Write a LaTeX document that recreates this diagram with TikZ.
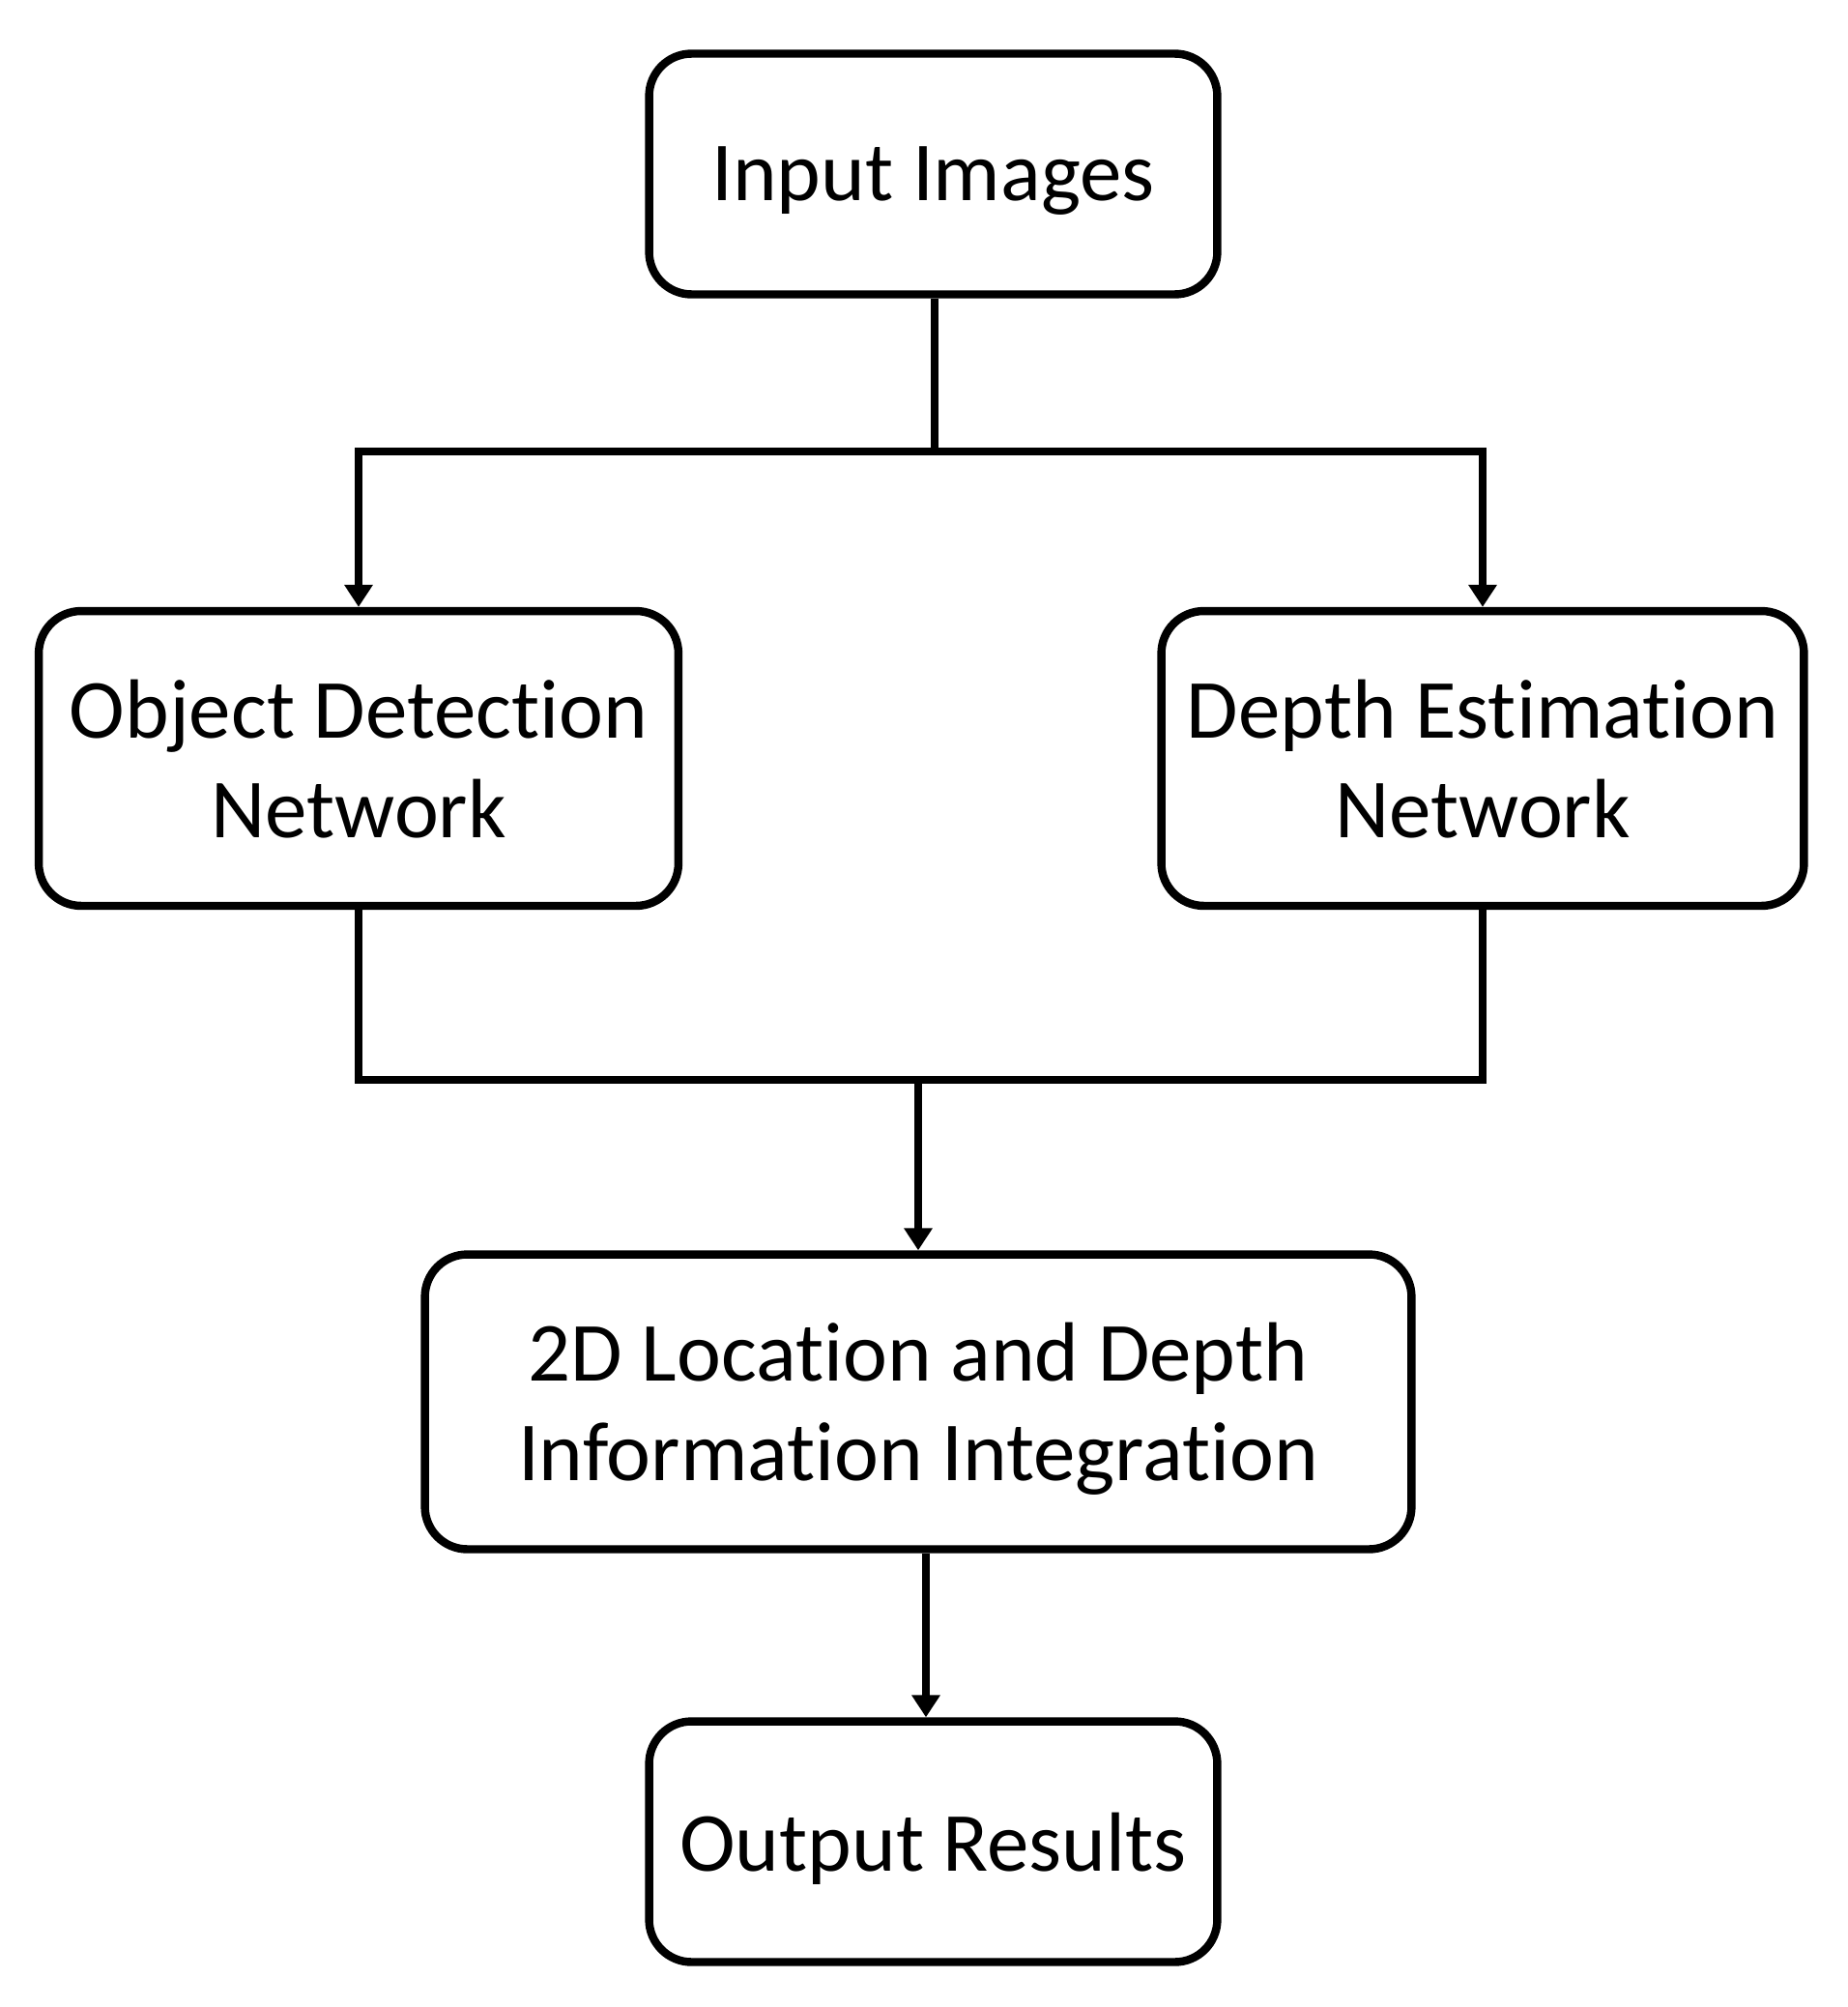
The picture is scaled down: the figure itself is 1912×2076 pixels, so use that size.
\documentclass[tikz,border=0pt]{standalone}
\usepackage{fontspec}
\setmainfont{Carlito}[Ligatures={NoCommon}]
\usetikzlibrary{arrows.meta,calc}
\begin{document}
\begin{tikzpicture}[x=0.02cm,y=-0.02cm,
  box/.style={draw=black, line width=4.8pt, rounded corners=25pt, fill=white,
    align=center, inner sep=0pt, text depth=0pt, font=\fontsize{49.5}{58.6}\selectfont},
  conn/.style={line width=4.6pt, line join=miter},
  arr/.style={conn, -{Triangle[width=16pt,length=13pt]}}]
\useasboundingbox[fill=white] (0,0) rectangle (1912,2076);
\node[box, minimum width=11.76cm, minimum height=4.98cm] (in) at (965.5,180) {Input Images};
\node[box, minimum width=13.24cm, minimum height=6.1cm] (obj) at (371,784.5) {Object Detection\\Network};
\node[box, minimum width=13.3cm, minimum height=6.1cm] (dep) at (1534,784.5) {Depth Estimation\\Network};
\node[box, minimum width=20.42cm, minimum height=6.1cm] (twod) at (950,1450) {2D Location and Depth\\Information Integration};
\node[box, minimum width=11.76cm, minimum height=4.98cm] (out) at (965.5,1905) {Output Results};
\coordinate (j1) at (967,467);
\coordinate (j2) at (950,1117);
\coordinate (j3) at (958,1700);
\draw[conn] (in.south -| j1) -- (j1);
\draw[arr] (j1) -| (obj.north);
\draw[arr] (j1) -| (dep.north);
\draw[conn] (obj.south) |- (j2) -| (dep.south);
\draw[arr] (j2) -- (twod.north -| j2);
\draw[arr] (twod.south -| j3) -- (out.north -| j3);
\end{tikzpicture}
\end{document}
